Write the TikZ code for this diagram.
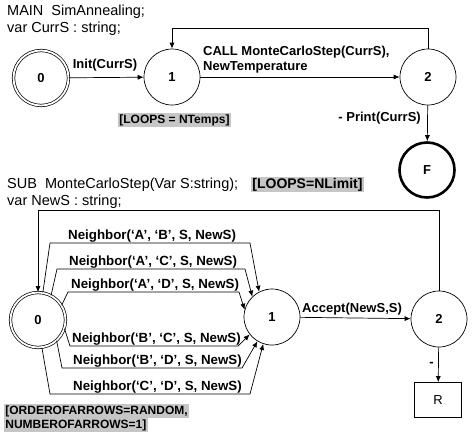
\documentclass[tikz,border=0pt]{standalone}
\usepackage{fontspec}
\setmainfont{Liberation Sans}
\usetikzlibrary{arrows.meta,calc}
\begin{document}
\begin{tikzpicture}[x=1pt,y=-1pt,
  st/.style={circle,draw,line width=0.7pt,minimum size=56pt,inner sep=0pt,font=\fontsize{13}{15}\selectfont\bfseries},
  stzero/.style={st,double,double distance=1.8pt,minimum size=55pt},
  fin/.style={st,line width=2.6pt,minimum size=55pt},
  boxst/.style={draw,line width=0.7pt,minimum width=47pt,minimum height=35pt,inner sep=0pt,font=\fontsize{13}{15}\selectfont},
  arr/.style={-{Latex[length=6pt,width=5pt]},line width=0.7pt},
  lbl/.style={font=\fontsize{13}{15}\selectfont\bfseries,inner sep=0pt},
  nlbl/.style={lbl,anchor=base west,font=\fontsize{13.3}{15}\selectfont\bfseries},
  hl/.style={fill=gray!45,inner sep=1.2pt},
  hdr/.style={font=\fontsize{14.5}{17}\selectfont,anchor=base west,inner sep=0pt}]
\useasboundingbox (0,0) rectangle (474,434);

% ---------- MAIN ----------
\node[hdr] (h1) at (7,15) {MAIN\ \ SimAnnealing;};
\node[hdr] (h2) at (7,32) {var CurrS : string;};

\node[stzero] (A0) at (41,78) {0};
\node[st] (A1) at (172,77) {1};
\node[st] (A2) at (428,77) {2};
\node[fin] (AF) at (427,170) {F};
\coordinate (topL) at (172,28);

\draw[arr] (A0) -- (A1);
\node[lbl,anchor=base] (initL) at (105,68) {Init(CurrS)};
\draw[arr] (A1) -- (A2);
\node[lbl,anchor=base west] (callL) at (203,55) {CALL MonteCarloStep(CurrS),};
\node[lbl,anchor=base west] (newtL) at (203,70) {NewTemperature};
\draw[arr] (A2.north) |- (topL) -- (A1.north);
\node[lbl,hl,anchor=base west,font=\fontsize{12}{14}\selectfont\bfseries] (loopsA) at (118,123) {[LOOPS = NTemps]};
\draw[arr] (A2) -- (AF);
\node[lbl,anchor=base east] (printL) at (421,121) {- Print(CurrS)};

% ---------- SUB ----------
\node[hdr] (h3) at (7,188) {SUB\ \ MonteCarloStep(Var S:string);};
\node[lbl,hl,anchor=base west,font=\fontsize{14}{16}\selectfont\bfseries] (loopsB) at (251,188) {[LOOPS=NLimit]};
\node[hdr] (h4) at (7,205) {var NewS : string;};

\node[stzero] (B0) at (38,320) {0};
\node[st] (B1) at (272,317) {1};
\node[st] (B2) at (439,319) {2};
\node[boxst] (R) at (438,400) {R};
\coordinate (loopL) at (38,210);

\draw[arr] (B2.north) |- (loopL) -- (B0.north);

\draw[arr] (B0.80) -- (50,243) -- (250,243) -- (B1.117);
\node[nlbl] (nAB) at (68,239) {Neighbor(‘A’, ‘B’, S, NewS)};
\draw[arr] (B0.62) -- (57,269) -- (245,269) -- (B1.134);
\node[nlbl] (nAC) at (69,265) {Neighbor(‘A’, ‘C’, S, NewS)};
\draw[arr] (B0.32) -- (68,292) -- (239,292) -- (B1.165);
\node[nlbl] (nAD) at (71,288) {Neighbor(‘A’, ‘D’, S, NewS)};
\draw[arr] (B0.-18) -- (70,346) -- (238,346) -- (B1.218);
\node[nlbl] (nBC) at (72,342) {Neighbor(‘B’, ‘C’, S, NewS)};
\draw[arr] (B0.-48) -- (62,368) -- (242,368) -- (B1.239);
\node[nlbl] (nBD) at (73,364) {Neighbor(‘B’, ‘D’, S, NewS)};
\draw[arr] (B0.-82) -- (50,394) -- (250,394) -- (B1.252);
\node[nlbl] (nCD) at (73,390) {Neighbor(‘C’, ‘D’, S, NewS)};

\draw[arr] (B1) -- (B2);
\node[lbl,anchor=base west] (accL) at (302,312) {Accept(NewS,S)};
\draw[arr] (B2) -- (R);
\node[lbl,anchor=base east] (dashL) at (434,366) {-};

\node[lbl,hl,anchor=base west,font=\fontsize{12}{14}\selectfont\bfseries] (ordL) at (4,414) {[ORDEROFARROWS=RANDOM,};
\node[lbl,hl,anchor=base west,font=\fontsize{12}{14}\selectfont\bfseries] (numL) at (4,428) {NUMBEROFARROWS=1]};
\end{tikzpicture}
\end{document}
